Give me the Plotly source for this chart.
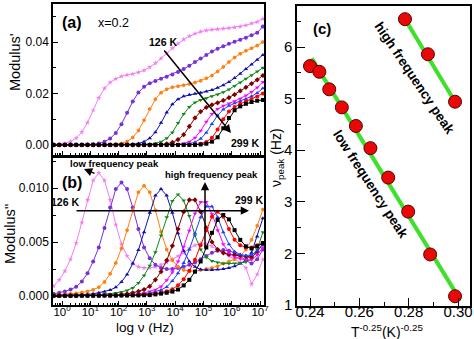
import plotly.graph_objects as go

W, H = 474, 339

# ---------------- data ----------------
LOG_FREQ = [-0.3, -0.1, 0.1, 0.3, 0.5, 0.7, 0.9, 1.1, 1.3, 1.5, 1.7, 1.9, 2.1, 2.3, 2.5, 2.7,
            2.9, 3.1, 3.3, 3.5, 3.7, 3.9, 4.1, 4.3, 4.5, 4.7, 4.9, 5.1, 5.3, 5.5, 5.7, 5.9,
            6.1, 6.3, 6.5, 6.7, 6.9, 7.1]

TEMPS = ["126 K", "144 K", "163 K", "183 K", "204 K", "224 K", "245 K", "266 K", "282 K", "299 K"]

# Modulus' (units of 1e-3)
M1_126 = [0.2, 0.3, 0.65, 1.35, 2.7, 5.0, 8.7, 13.5, 18.3, 22.0, 24.3, 25.7, 26.7, 27.2, 27.6, 28.2,
          29.0, 30.2, 31.8, 33.6, 35.6, 37.6, 39.4, 41.0, 42.3, 43.3, 44.0, 44.5, 44.8, 45.0, 45.2,
          45.4, 45.7, 46.0, 46.5, 47.2, 47.8, 49.0]
M1_144 = [0.05, 0.05, 0.05, 0.06, 0.07, 0.08, 0.15, 0.3, 0.6, 1.25, 2.5, 4.65, 8.1, 12.5, 16.9, 20.4,
          22.6, 24.0, 24.9, 25.7, 26.5, 27.4, 28.4, 29.5, 30.8, 32.2, 33.6, 35.0, 36.3, 37.4, 38.4,
          39.3, 40.1, 40.9, 41.7, 42.6, 43.6, 46.0]
M1_163 = [0.05, 0.05, 0.05, 0.05, 0.05, 0.05, 0.05, 0.05, 0.05, 0.1, 0.15, 0.3, 0.6, 1.4, 2.9, 5.6,
          9.6, 14.0, 17.8, 20.3, 21.7, 22.4, 22.8, 23.2, 23.7, 24.3, 25.0, 25.9, 27.0, 28.5, 30.3,
          32.2, 34.0, 35.4, 36.6, 37.6, 38.6, 40.0]
M1_183 = [0.05, 0.05, 0.05, 0.05, 0.05, 0.05, 0.05, 0.05, 0.05, 0.05, 0.05, 0.05, 0.1, 0.15, 0.3, 0.6,
          1.3, 2.6, 5.0, 8.6, 12.6, 15.8, 17.8, 18.9, 19.5, 19.9, 20.3, 20.8, 21.4, 22.2, 23.2,
          24.5, 26.0, 27.7, 29.5, 31.3, 33.1, 35.0]
M1_204 = [0.05, 0.05, 0.05, 0.05, 0.05, 0.05, 0.05, 0.05, 0.05, 0.05, 0.05, 0.05, 0.05, 0.05, 0.05, 0.1,
          0.15, 0.3, 0.6, 1.3, 2.6, 4.9, 8.5, 12.0, 14.8, 16.5, 17.5, 18.2, 18.9, 19.6, 20.5,
          21.6, 22.9, 24.3, 25.7, 27.1, 28.5, 30.0]
M1_224 = [0.05, 0.05, 0.05, 0.05, 0.05, 0.05, 0.05, 0.05, 0.05, 0.05, 0.05, 0.05, 0.05, 0.05, 0.05, 0.05,
          0.05, 0.05, 0.1, 0.2, 0.45, 1.0, 2.1, 4.0, 7.2, 10.5, 13.0, 14.6, 15.6, 16.4, 17.3,
          18.4, 19.6, 21.0, 22.4, 23.8, 25.3, 27.0]
M1_245 = [0.05, 0.05, 0.05, 0.05, 0.05, 0.05, 0.05, 0.05, 0.05, 0.05, 0.05, 0.05, 0.05, 0.05, 0.05, 0.05,
          0.05, 0.05, 0.05, 0.05, 0.05, 0.1, 0.25, 0.6, 1.3, 2.8, 5.5, 9.0, 12.0, 14.0, 15.2,
          16.1, 17.0, 18.0, 19.2, 20.6, 22.3, 24.5]
M1_266 = [0.05, 0.05, 0.05, 0.05, 0.05, 0.05, 0.05, 0.05, 0.05, 0.05, 0.05, 0.05, 0.05, 0.05, 0.05, 0.05,
          0.05, 0.05, 0.05, 0.05, 0.05, 0.05, 0.1, 0.2, 0.5, 1.1, 2.4, 4.8, 8.2, 11.5, 13.8,
          15.2, 16.2, 17.0, 17.9, 18.9, 20.2, 22.0]
M1_282 = [0.05, 0.05, 0.05, 0.05, 0.05, 0.05, 0.05, 0.05, 0.05, 0.05, 0.05, 0.05, 0.05, 0.05, 0.05, 0.05,
          0.05, 0.05, 0.05, 0.05, 0.05, 0.05, 0.05, 0.05, 0.05, 0.2, 0.5, 1.2, 2.8, 6.0, 10.0,
          13.0, 14.8, 16.0, 17.0, 17.9, 18.8, 20.0]
M1_299 = [0.05, 0.05, 0.05, 0.05, 0.05, 0.05, 0.05, 0.05, 0.05, 0.05, 0.05, 0.05, 0.05, 0.05, 0.05, 0.05,
          0.05, 0.05, 0.05, 0.05, 0.05, 0.05, 0.05, 0.05, 0.05, 0.05, 0.2, 0.5, 1.3, 3.0, 6.5,
          10.5, 13.5, 15.0, 16.0, 16.7, 17.2, 17.5]

# Modulus'' (units of 1e-3)
M2_126 = [0.9, 1.5, 2.3, 3.4, 4.9, 6.8, 8.9, 10.7, 11.4, 10.7, 8.9, 6.6, 4.8, 3.7, 3.0, 2.7,
          2.6, 2.6, 2.7, 2.9, 3.1, 3.4, 3.7, 4.0, 4.4, 4.7, 4.85, 4.8, 4.6, 4.3, 4.0,
          3.7, 3.4, 3.1, 2.6, 1.1, 2.0, 3.4]
M2_144 = [0.2, 0.3, 0.42, 0.6, 0.85, 1.35, 2.1, 3.2, 4.5, 6.3, 8.2, 9.9, 10.5, 9.9, 8.2, 6.2,
          4.5, 3.5, 2.9, 2.6, 2.5, 2.5, 2.6, 2.7, 2.9, 3.1, 3.4, 3.7, 4.0, 4.2, 4.25,
          4.2, 4.0, 3.7, 3.3, 3.0, 3.4, 4.3]
M2_163 = [0.1, 0.12, 0.15, 0.2, 0.25, 0.32, 0.42, 0.58, 0.82, 1.3, 2.05, 3.05, 4.4, 6.1, 7.95, 9.6,
          10.2, 9.6, 7.95, 5.95, 4.3, 3.3, 2.7, 2.4, 2.3, 2.3, 2.4, 2.5, 2.6, 2.75, 3.0,
          3.2, 3.4, 3.7, 4.3, 5.2, 6.5, 8.0]
M2_183 = [0.05, 0.06, 0.07, 0.08, 0.1, 0.12, 0.15, 0.2, 0.3, 0.4, 0.55, 0.8, 1.3, 2.0, 3.0, 4.25,
          5.9, 7.7, 9.3, 9.9, 9.3, 7.7, 5.8, 4.2, 3.2, 2.7, 2.45, 2.4, 2.4, 2.45, 2.5,
          2.6, 2.75, 3.0, 3.3, 4.0, 5.5, 7.2]
M2_204 = [0.03, 0.03, 0.04, 0.04, 0.05, 0.05, 0.06, 0.08, 0.1, 0.14, 0.19, 0.28, 0.38, 0.52, 0.75, 1.2,
          1.9, 2.8, 4.05, 5.6, 7.3, 8.8, 9.4, 8.85, 7.4, 5.6, 4.3, 3.6, 3.25, 3.1, 3.0,
          3.0, 3.0, 3.05, 3.15, 3.4, 4.3, 5.9]
M2_224 = [0.03, 0.03, 0.03, 0.04, 0.04, 0.04, 0.05, 0.05, 0.06, 0.07, 0.08, 0.1, 0.13, 0.2, 0.3, 0.42,
          0.6, 0.9, 1.5, 2.25, 3.3, 4.65, 6.2, 7.8, 8.9, 8.9, 7.8, 6.3, 5.0, 4.3, 4.0,
          3.85, 3.8, 3.75, 3.65, 3.6, 4.1, 4.8]
M2_245 = [0.02, 0.02, 0.03, 0.03, 0.03, 0.04, 0.04, 0.04, 0.05, 0.05, 0.06, 0.07, 0.08, 0.1, 0.13, 0.19,
          0.28, 0.41, 0.59, 0.88, 1.45, 2.2, 3.2, 4.55, 6.05, 7.65, 8.7, 8.7, 7.6, 6.1, 4.8,
          4.0, 3.6, 3.45, 3.35, 3.35, 3.8, 4.5]
M2_266 = [0.02, 0.02, 0.02, 0.03, 0.03, 0.03, 0.04, 0.04, 0.04, 0.05, 0.05, 0.06, 0.06, 0.07, 0.09, 0.12,
          0.18, 0.27, 0.39, 0.56, 0.84, 1.4, 2.1, 3.05, 4.3, 5.8, 7.3, 8.3, 8.3, 7.3, 5.9,
          4.8, 4.1, 3.85, 3.75, 3.8, 4.2, 4.8]
M2_282 = [0.02, 0.02, 0.02, 0.02, 0.03, 0.03, 0.03, 0.03, 0.04, 0.04, 0.04, 0.05, 0.05, 0.05, 0.06, 0.07,
          0.12, 0.16, 0.23, 0.31, 0.43, 0.62, 1.0, 1.55, 2.35, 3.35, 4.7, 6.1, 7.35, 7.8, 7.35,
          6.2, 5.2, 4.7, 4.5, 4.5, 4.7, 4.9]
M2_299 = [0.02, 0.02, 0.02, 0.02, 0.02, 0.03, 0.03, 0.03, 0.03, 0.04, 0.04, 0.04, 0.05, 0.05, 0.06, 0.06,
          0.07, 0.08, 0.15, 0.22, 0.3, 0.41, 0.6, 0.98, 1.5, 2.25, 3.2, 4.5, 5.85, 7.05, 7.5,
          7.1, 6.1, 5.2, 4.6, 4.4, 4.6, 4.9]

# panel (c)
T_INV_LOW = [0.2400, 0.2438, 0.2478, 0.2529, 0.2586, 0.2645, 0.2717, 0.2798, 0.2887, 0.2988]
NU_LOW = [5.63, 5.52, 5.18, 4.83, 4.47, 4.04, 3.47, 2.81, 1.98, 1.17]
T_INV_HIGH = [0.2785, 0.2878, 0.2988]
NU_HIGH = [6.54, 5.86, 4.94]
FIT_LOW_X = [0.2407, 0.2988]
FIT_LOW_Y = [5.78, 1.26]
FIT_HIGH_X = [0.2785, 0.2988]
FIT_HIGH_Y = [6.54, 4.94]

X_TICK_EXP = [0, 1, 2, 3, 4, 5, 6, 7]

# ---------------- styles ----------------
M1_SERIES = [M1_126, M1_144, M1_163, M1_183, M1_204, M1_224, M1_245, M1_266, M1_282, M1_299]
M2_SERIES = [M2_126, M2_144, M2_163, M2_183, M2_204, M2_224, M2_245, M2_266, M2_282, M2_299]
COLORS = ["#f27ef2", "#7a30d8", "#ff7f10", "#1010b0", "#11881a", "#800000",
          "#ff00ff", "#2040ff", "#ff0000", "#000000"]
SYMBOLS = ["star", "circle", "hexagon", "triangle-up", "triangle-down", "diamond",
           "triangle-down", "triangle-up", "circle", "square"]

FONT = "Liberation Sans, Arial, sans-serif"
freq = [10 ** v for v in LOG_FREQ]

fig = go.Figure()
for i in range(10):
    for ser, xa, ya in ((M1_SERIES, "x", "y"), (M2_SERIES, "x2", "y2")):
        fig.add_trace(go.Scatter(
            x=freq, y=[v * 1e-3 for v in ser[i]], xaxis=xa, yaxis=ya,
            mode="lines+markers", name=TEMPS[i], showlegend=False,
            line=dict(color=COLORS[i], width=1),
            marker=dict(symbol=SYMBOLS[i], size=4, color=COLORS[i], line=dict(width=0)),
        ))

fig.add_trace(go.Scatter(x=FIT_LOW_X, y=FIT_LOW_Y, xaxis="x3", yaxis="y3", mode="lines",
                         line=dict(color="#3ee02a", width=4), showlegend=False))
fig.add_trace(go.Scatter(x=FIT_HIGH_X, y=FIT_HIGH_Y, xaxis="x3", yaxis="y3", mode="lines",
                         line=dict(color="#3ee02a", width=4), showlegend=False))
for xs, ys in ((T_INV_LOW, NU_LOW), (T_INV_HIGH, NU_HIGH)):
    fig.add_trace(go.Scatter(x=xs, y=ys, xaxis="x3", yaxis="y3", mode="markers",
                             marker=dict(size=13, color="#e80808", line=dict(color="#5a0000", width=1)),
                             showlegend=False))


def px(x):
    return x / W


def py(y):
    return 1 - y / H


minor_log = [k * 10 ** n for n in range(-1, 8) for k in range(2, 10)]
ax_common = dict(showline=True, linewidth=1.5, linecolor="black", mirror=True, ticks="inside",
                 tickcolor="black", tickwidth=1.2, showgrid=False, zeroline=False, automargin=False,
                 tickfont=dict(family=FONT, size=12, color="black"))

dom_x = [px(53), px(264)]
fig.update_layout(
    width=W, height=H, margin=dict(l=0, r=0, t=0, b=0, pad=0, autoexpand=False),
    paper_bgcolor="white", plot_bgcolor="white", showlegend=False,
    xaxis=dict(ax_common, domain=dom_x, anchor="y", type="log", range=[-0.32, 7.14],
               tickvals=[10 ** e for e in X_TICK_EXP], showticklabels=False, ticklen=4,
               minor=dict(tickvals=minor_log, ticks="inside", ticklen=2, tickcolor="black")),
    yaxis=dict(ax_common, domain=[py(155), py(4)], anchor="x", range=[-0.00388, 0.05476],
               tickvals=[0, 0.02, 0.04], ticktext=["0.00", "0.02", "0.04"], ticklen=5,
               minor=dict(dtick=0.01, ticks="inside", ticklen=3, tickcolor="black")),
    xaxis2=dict(ax_common, domain=dom_x, anchor="y2", type="log", range=[-0.32, 7.14],
                tickvals=[10 ** e for e in X_TICK_EXP],
                ticktext=["10<sup>%d</sup>" % e for e in X_TICK_EXP], ticklen=4,
                ticklabelstandoff=-5,
                tickfont=dict(family=FONT, size=11.5, color="black"),
                minor=dict(tickvals=minor_log, ticks="inside", ticklen=2, tickcolor="black")),
    yaxis2=dict(ax_common, domain=[py(305), py(158)], anchor="x2", range=[-0.000833, 0.01278],
                tickvals=[0, 0.005, 0.010], ticktext=["0.000", "0.005", "0.010"], ticklen=5,
                minor=dict(dtick=0.0025, ticks="inside", ticklen=3, tickcolor="black")),
    xaxis3=dict(ax_common, domain=[px(297), px(470)], anchor="y3", range=[0.23473, 0.30486],
                tick0=0.24, dtick=0.02, tickformat=".2f", ticklen=8, ticklabelstandoff=-9,
                tickfont=dict(family=FONT, size=15, color="black"),
                minor=dict(dtick=0.01, tick0=0.24, ticks="inside", ticklen=4, tickcolor="black")),
    yaxis3=dict(ax_common, domain=[py(306), py(6)], anchor="x3", range=[0.981, 6.795],
                tick0=1, dtick=1, ticklen=8,
                tickfont=dict(family=FONT, size=15, color="black"),
                minor=dict(dtick=0.5, tick0=1, ticks="inside", ticklen=4, tickcolor="black")),
)


def text(x, y, s, size, bold=False, angle=0, xanchor="center"):
    fig.add_annotation(x=px(x), y=py(y), xref="paper", yref="paper", text=("<b>%s</b>" % s) if bold else s,
                       showarrow=False, textangle=angle, xanchor=xanchor, yanchor="middle",
                       font=dict(family=FONT, size=size, color="black"))


def arrow(x0, y0, x1, y1):
    fig.add_annotation(x=px(x1), y=py(y1), xref="paper", yref="paper", text="",
                       showarrow=True, ax=x0 - x1, ay=y0 - y1, axref="pixel", ayref="pixel",
                       arrowhead=2, arrowsize=1.1, arrowwidth=1.5, arrowcolor="black")


text(72, 23, "(a)", 16, bold=True)
text(113, 23, "x=0.2", 12.5)
text(163, 42, "126 K", 10.5, bold=True)
text(245, 143, "299 K", 10.5, bold=True)
arrow(163, 49, 231, 133)

text(72, 183, "(b)", 16, bold=True)
text(114, 163, "low frequency peak", 9.5, bold=True)
text(163, 175, "high frequency peak", 9.5, bold=True, xanchor="left")
text(65, 202, "126 K", 10.5, bold=True)
text(249, 200, "299 K", 10.5, bold=True)
arrow(75, 210.7, 249, 210.7)
arrow(205, 249, 205, 182)
arrow(96, 174, 84, 169)

text(15, 62, "Modulus'", 14.5, angle=-90)
text(10, 234, "Modulus''", 14.5, angle=-90)
text(145, 327, "log ν (Hz)", 13.5)

text(322, 29, "(c)", 15, bold=True)
text(415, 78, "high frequency peak", 13.5, bold=True, angle=56)
text(371, 184, "low frequency peak", 13.5, bold=True, angle=57)
text(277, 158, "ν<sub>peak</sub> (Hz)", 14, angle=-90)
text(387, 331, "T<sup>-0.25</sup>(K)<sup>-0.25</sup>", 14)

fig.write_html("out.html")
